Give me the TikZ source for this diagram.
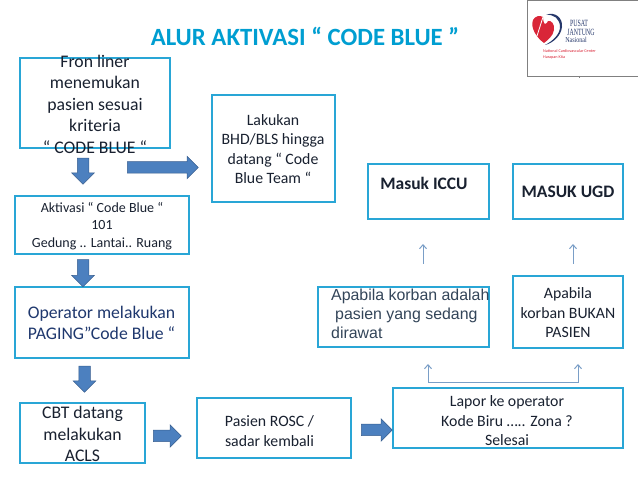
\documentclass[tikz,border=0pt]{standalone}
\usepackage{fontspec}
\setmainfont{Carlito}
\newfontfamily\arialfont{Liberation Sans}
\newfontfamily\logofont{Liberation Serif}
\usetikzlibrary{shapes.arrows,arrows.meta}
\newlength{\du}
\setlength{\du}{1pt}
\definecolor{boxcolor}{rgb}{0.160000, 0.650000, 0.840000}
\definecolor{arrowfill}{rgb}{0.300000, 0.500000, 0.750000}
\definecolor{arrowline}{rgb}{0.220000, 0.370000, 0.560000}
\definecolor{thincolor}{rgb}{0.480000, 0.620000, 0.780000}
\definecolor{textcolor}{rgb}{0.100000, 0.130000, 0.190000}
\definecolor{arialcolor}{rgb}{0.200000, 0.270000, 0.350000}
\definecolor{operatorcolor}{rgb}{0.120000, 0.220000, 0.430000}
\definecolor{titlecolor}{rgb}{0.000000, 0.620000, 0.820000}
\definecolor{logored}{rgb}{0.850000, 0.150000, 0.220000}
\definecolor{logoblue}{rgb}{0.150000, 0.220000, 0.420000}
\tikzset{
  boxline/.style={draw=boxcolor, line width=1.6\du, fill=white, inner sep=0pt},
  lbl/.style={align=center, text=textcolor, inner sep=0pt, font=\fontsize{15.8}{19.5}\selectfont},
  biglbl/.style={lbl, font=\fontsize{17.7}{21.5}\selectfont},
  smalllbl/.style={lbl, font=\fontsize{14}{17.5}\selectfont},
  boldlbl/.style={lbl, font=\bfseries\fontsize{17.5}{20}\selectfont},
  arial/.style={align=left, text=arialcolor, inner sep=0pt, font=\arialfont\fontsize{15.9}{19}\selectfont},
  blockarrow/.style={single arrow, draw=arrowline, fill=arrowfill, line width=0.5\du, anchor=tail,
    single arrow head extend=5.5\du, single arrow tip angle=90, inner xsep=0pt, inner ysep=5.5\du,
    minimum height=27\du},
  thinarrow/.style={draw=thincolor, line width=1\du, -{Straight Barb[length=4pt,width=7pt]}},
  logotext/.style={inner sep=0pt, text=logoblue, transform shape, xscale=0.62, font=\logofont\fontsize{9.5}{9.5}\selectfont},
  logosmall/.style={inner sep=0pt, anchor=west, text=logored, font=\fontsize{4.2}{5}\selectfont}
}
\begin{document}
\begin{tikzpicture}[x=1\du, y=-1\du]
\useasboundingbox (0,0) rectangle (638,478);
% title
\node[inner sep=0pt, text=titlecolor, font=\bfseries\fontsize{24.8}{28}\selectfont] (title) at (305,36) {ALUR AKTIVASI “ CODE BLUE ”};
% logo
\draw[gray, line width=1\du] (638,1) -- (527,1) -- (527,77) -- (638,77);
\draw[gray, line width=1\du] (579,76) -- (579,78);
\fill[logored] (544,43) .. controls (537,38) and (530,28) .. (533,20) .. controls (535,16) and (540,15) .. (543,17) .. controls (543,23) and (545,27) .. (548,21) .. controls (551,20) and (555,24) .. (554,30) .. controls (553,36) and (548,40) .. (544,43) -- cycle;
\draw[white, line width=0.8\du] (543,17) -- (537,36);
\fill[logoblue] (546,15) .. controls (555,11) and (563,18) .. (562,27) .. controls (561,36) and (553,43) .. (545,45) .. controls (553,41) and (560,34) .. (560,27) .. controls (560,19) and (554,14) .. (546,15) -- cycle;
\node[logotext] (logopusat) at (579,23) {PUSAT};
\node[logotext] (logojantung) at (581,32) {JANTUNG};
\node[logotext, xscale=1.3, font=\logofont\fontsize{7.5}{8}\selectfont] (logonasional) at (576,40) {Nasional};
\node[logosmall] (logonational) at (543,51) {National Cardiovascular Center};
\node[logosmall] (logoharapan) at (543,57) {Harapan Kita};
% boxes
\node[boxline, minimum width=150\du, minimum height=90\du] (fronbox) at (95,103) {};
\node[boxline, minimum width=174\du, minimum height=58\du] (aktivasibox) at (102,225) {};
\node[boxline, minimum width=174\du, minimum height=71\du] (operatorbox) at (102,322.5) {};
\node[boxline, minimum width=125\du, minimum height=60\du] (cbtbox) at (82.5,433) {};
\node[boxline, minimum width=154\du, minimum height=60\du] (rosc) at (274,428) {};
\node[boxline, minimum width=230\du, minimum height=60\du] (laporbox) at (508,418) {};
\node[boxline, minimum width=123\du, minimum height=107\du] (bhdbox) at (273.5,148.5) {};
\node[boxline, minimum width=121\du, minimum height=55\du] (iccubox) at (428.5,191.5) {};
\node[boxline, minimum width=110\du, minimum height=55\du] (ugdbox) at (568,191.5) {};
\node[boxline, minimum width=171\du, minimum height=60\du] (rawatbox) at (403.5,317) {};
\node[boxline, minimum width=110\du, minimum height=72\du] (bukanbox) at (568,312) {};
% labels
\node[biglbl] (fronlabel) at (95,104) {Fron liner\\menemukan\\pasien sesuai\\kriteria\\“ CODE BLUE “};
\node[smalllbl] (aktivasilabel) at (102,226) {Aktivasi “ Code Blue “\\101\\Gedung .. Lantai.. Ruang};
\node[biglbl, text=operatorcolor, font=\fontsize{17.7}{21}\selectfont] (operatorlabel) at (101.5,323) {Operator melakukan\\PAGING”Code Blue “};
\node[biglbl] (cbtlabel) at (82.5,434) {CBT datang\\melakukan\\ACLS};
\node[lbl] (rosclabel) at (269.5,431) {Pasien ROSC /\\sadar kembali};
\node[lbl] (laporlabel) at (507,421) {Lapor ke operator\\Kode Biru ….. Zona ?\\Selesai};
\node[lbl] (bhdlabel) at (273,149) {Lakukan\\BHD/BLS hingga\\datang “ Code\\Blue Team “};
\node[boldlbl] (icculabel) at (424,183) {Masuk ICCU};
\node[boldlbl] (ugdlabel) at (568,192) {MASUK UGD};
\node[arial, anchor=west] (rawatlabel) at (331,314) {Apabila korban adalah\\\hspace*{4\du}pasien yang sedang\\dirawat};
\node[lbl] (bukanlabel) at (568,313) {Apabila\\korban BUKAN\\PASIEN};
% block arrows
\node[blockarrow, rotate=-90, minimum height=26\du] (downa) at (83,158) {};
\node[blockarrow, rotate=-90] (downb) at (83,259.5) {};
\node[blockarrow, rotate=-90, minimum height=26\du] (downc) at (84.5,366) {};
\node[blockarrow, minimum height=71\du] (rightbhd) at (127,167.5) {};
\node[blockarrow, minimum height=28\du] (rightrosc) at (153,436) {};
\node[blockarrow, minimum height=31\du] (rightlapor) at (361,430) {};
% thin arrows
\coordinate (iccufoot) at (423,264);
\coordinate (iccutip) at (423,244);
\coordinate (ugdfoot) at (573,264);
\coordinate (ugdtip) at (573,244);
\coordinate (forkleft) at (428,383);
\coordinate (forkright) at (578,383);
\coordinate (rawattip) at (428,364);
\coordinate (bukantip) at (578,364);
\draw[thinarrow] (iccufoot) -- (iccutip);
\draw[thinarrow] (ugdfoot) -- (ugdtip);
\draw[draw=thincolor, line width=1\du] (forkleft) -- (forkright);
\draw[thinarrow] (forkleft) -- (rawattip);
\draw[thinarrow] (forkright) -- (bukantip);
\end{tikzpicture}
\end{document}
